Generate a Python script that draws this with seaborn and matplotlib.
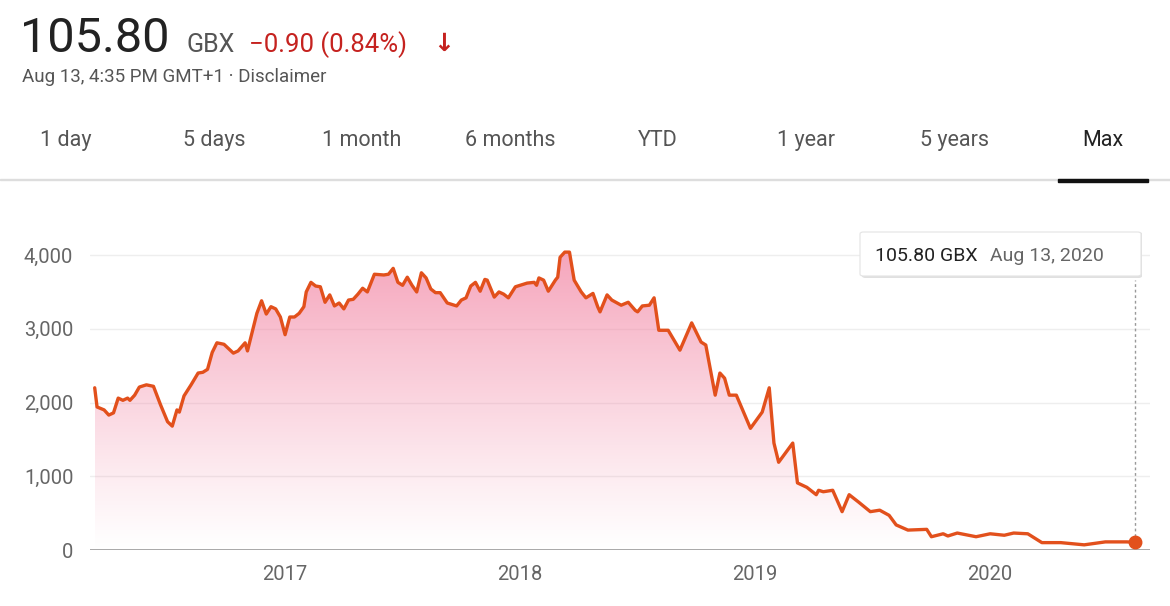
import matplotlib
matplotlib.use("Agg")
import matplotlib.pyplot as plt
import seaborn as sns
import numpy as np
import pandas as pd
from matplotlib.patches import FancyBboxPatch, Rectangle, Polygon

# price history, decimal years vs GBX
years = [2016.19, 2016.20, 2016.23, 2016.25, 2016.27, 2016.29, 2016.31, 2016.33, 2016.34, 2016.36,
         2016.38, 2016.41, 2016.44, 2016.47, 2016.50, 2016.52, 2016.54, 2016.55, 2016.57, 2016.60,
         2016.63, 2016.65, 2016.67, 2016.69, 2016.71, 2016.74, 2016.76, 2016.78, 2016.80, 2016.83,
         2016.84, 2016.88, 2016.90, 2016.92, 2016.94, 2016.96, 2016.98, 2017.00, 2017.02, 2017.04,
         2017.06, 2017.08, 2017.09, 2017.11, 2017.13, 2017.15, 2017.17, 2017.19, 2017.21, 2017.23,
         2017.25, 2017.27, 2017.29, 2017.31, 2017.33, 2017.35, 2017.38, 2017.42, 2017.44, 2017.46,
         2017.48, 2017.50, 2017.52, 2017.54, 2017.56, 2017.58, 2017.60, 2017.62, 2017.64, 2017.66,
         2017.69, 2017.73, 2017.75, 2017.77, 2017.79, 2017.81, 2017.83, 2017.85, 2017.86, 2017.89,
         2017.91, 2017.93, 2017.95, 2017.98, 2018.03, 2018.06, 2018.07, 2018.08, 2018.10, 2018.12,
         2018.15, 2018.16, 2018.17, 2018.19, 2018.21, 2018.23, 2018.26, 2018.28, 2018.31, 2018.33,
         2018.34, 2018.37, 2018.39, 2018.43, 2018.46, 2018.49, 2018.50, 2018.52, 2018.55, 2018.57,
         2018.59, 2018.63, 2018.68, 2018.73, 2018.77, 2018.79, 2018.83, 2018.85, 2018.87, 2018.89,
         2018.92, 2018.98, 2019.03, 2019.06, 2019.08, 2019.10, 2019.16, 2019.18, 2019.22, 2019.26,
         2019.27, 2019.29, 2019.33, 2019.37, 2019.40, 2019.44, 2019.49, 2019.53, 2019.57, 2019.60,
         2019.65, 2019.73, 2019.75, 2019.80, 2019.82, 2019.86, 2019.94, 2020.00, 2020.06, 2020.10,
         2020.16, 2020.22, 2020.30, 2020.40, 2020.49, 2020.58, 2020.615]
prices = [2200, 1940, 1900, 1830, 1860, 2060, 2030, 2060, 2030, 2100,
          2210, 2240, 2220, 1970, 1740, 1680, 1900, 1870, 2090, 2240,
          2400, 2410, 2450, 2680, 2810, 2790, 2730, 2670, 2700, 2810,
          2700, 3210, 3380, 3200, 3300, 3270, 3160, 2920, 3160, 3160,
          3210, 3300, 3500, 3630, 3580, 3570, 3360, 3460, 3310, 3350,
          3270, 3390, 3400, 3470, 3550, 3500, 3740, 3730, 3740, 3820,
          3630, 3590, 3700, 3590, 3500, 3760, 3690, 3540, 3490, 3490,
          3350, 3310, 3390, 3420, 3580, 3630, 3510, 3670, 3660, 3430,
          3500, 3470, 3420, 3570, 3620, 3630, 3590, 3690, 3660, 3510,
          3660, 3700, 3970, 4040, 4040, 3660, 3500, 3420, 3480, 3300,
          3230, 3460, 3390, 3320, 3360, 3250, 3230, 3310, 3320, 3420,
          2980, 2980, 2710, 3080, 2820, 2780, 2100, 2400, 2330, 2100,
          2100, 1650, 1870, 2200, 1450, 1190, 1450, 910, 850, 750,
          810, 790, 810, 520, 750, 650, 520, 540, 470, 340,
          270, 280, 180, 220, 190, 230, 180, 220, 200, 230,
          220, 100, 100, 70, 110, 110, 105.8]
year_ticks = [2017, 2018, 2019, 2020]
y_ticks = [0, 1000, 2000, 3000, 4000]
tabs = ["1 day", "5 days", "1 month", "6 months", "YTD", "1 year", "5 years", "Max"]

df = pd.DataFrame({"year": years, "price": prices})

sns.set_style("white")
plt.rcParams["font.family"] = ["Roboto", "DejaVu Sans"]

W, H = 1170, 606
fig = plt.figure(figsize=(W / 100, H / 100), dpi=100)

def fx(px):
    return px / W

def fy(py):
    return 1 - py / H

# header
fig.text(fx(20), fy(52), "105.80", fontsize=35, color="#222222")
fig.text(fx(187), fy(52), "GBX", fontsize=18, color="#555555")
fig.text(fx(249), fy(52), "\u22120.90 (0.84%)", fontsize=18.5, color="#c5221f")
fig.text(fx(433), fy(51), "\u2193", fontsize=18, color="#c5221f", fontweight="bold",
         family=["DejaVu Sans"])
fig.text(fx(22), fy(82), "Aug 13, 4:35 PM GMT+1 \u00b7 Disclaimer", fontsize=13.5, color="#555555")

tab_x = [66, 214, 362, 510, 658, 806, 955, 1103]
for t, x in zip(tabs, tab_x):
    fig.text(fx(x), fy(146), t, fontsize=15.5, color="#222222" if t == "Max" else "#555555", ha="center")
fig.add_artist(Rectangle((0, fy(180)), 1, 0.0017, transform=fig.transFigure, color="#dddddd"))
fig.add_artist(Rectangle((fx(1058), fy(182)), fx(90), 0.0055, transform=fig.transFigure, color="#111111"))

# chart
ax = fig.add_axes([fx(90), fy(550), fx(1060), fy(230) - fy(550)])
ymax = 4340
ax.set_xlim(2016.17, 2020.68)
ax.set_ylim(0, ymax)

# gradient fill under curve, strongest at the top
poly = Polygon(np.column_stack([np.r_[years[0], years, years[-1]], np.r_[0, prices, 0]]),
               closed=True, transform=ax.transData, facecolor="none", edgecolor="none")
ax.add_patch(poly)
grad = np.zeros((256, 2, 4))
grad[..., 0] = 0.95
grad[..., 1] = 0.52
grad[..., 2] = 0.64
grad[..., 3] = np.linspace(0.75, 0.0, 256)[:, None] ** 1.1
img = ax.imshow(grad, extent=[years[0], years[-1], 0, 4040], aspect="auto", zorder=1, origin="upper")
img.set_clip_path(poly)

sns.lineplot(data=df, x="year", y="price", ax=ax, color="#e2501c", linewidth=2.4, zorder=3)
ax.plot([years[-1]], [prices[-1]], "o", color="#e2501c", markersize=9, zorder=4, clip_on=False)
ax.vlines(years[-1], prices[-1], 3660, colors="#999999", linestyles=(0, (2, 2)), linewidth=1, zorder=2)

for v in y_ticks[1:]:
    ax.axhline(v, color="#eeeeee", linewidth=1, zorder=0)
ax.axhline(0, color="#999999", linewidth=1.2, zorder=2)

for s in ax.spines.values():
    s.set_visible(False)
ax.set_yticks(y_ticks)
ax.set_yticklabels([f"{v:,}" for v in y_ticks], fontsize=14.5, color="#666666")
ax.set_xticks(year_ticks)
ax.set_xticklabels([str(y) for y in year_ticks], fontsize=14.5, color="#666666")
ax.tick_params(axis="y", length=0, pad=12)
ax.tick_params(axis="x", length=7, color="#999999", direction="out", pad=4)
ax.set_xlabel("")
ax.set_ylabel("")

# tooltip
fig.add_artist(FancyBboxPatch((fx(862), fy(278)), fx(280), fy(232) - fy(278),
                              boxstyle="round,pad=0,rounding_size=0.003", transform=fig.transFigure,
                              facecolor="#e0e0e0", edgecolor="none", zorder=5))
fig.add_artist(FancyBboxPatch((fx(860), fy(276)), fx(281), fy(232) - fy(276),
                              boxstyle="round,pad=0,rounding_size=0.003", transform=fig.transFigure,
                              facecolor="white", edgecolor="#e4e4e4", linewidth=0.8, zorder=6))
fig.text(fx(875), fy(261), "105.80 GBX", fontsize=14, color="#222222", zorder=7)
fig.text(fx(990), fy(261), "Aug 13, 2020", fontsize=14, color="#666666", zorder=7)

fig.savefig("out.png", dpi=100)
